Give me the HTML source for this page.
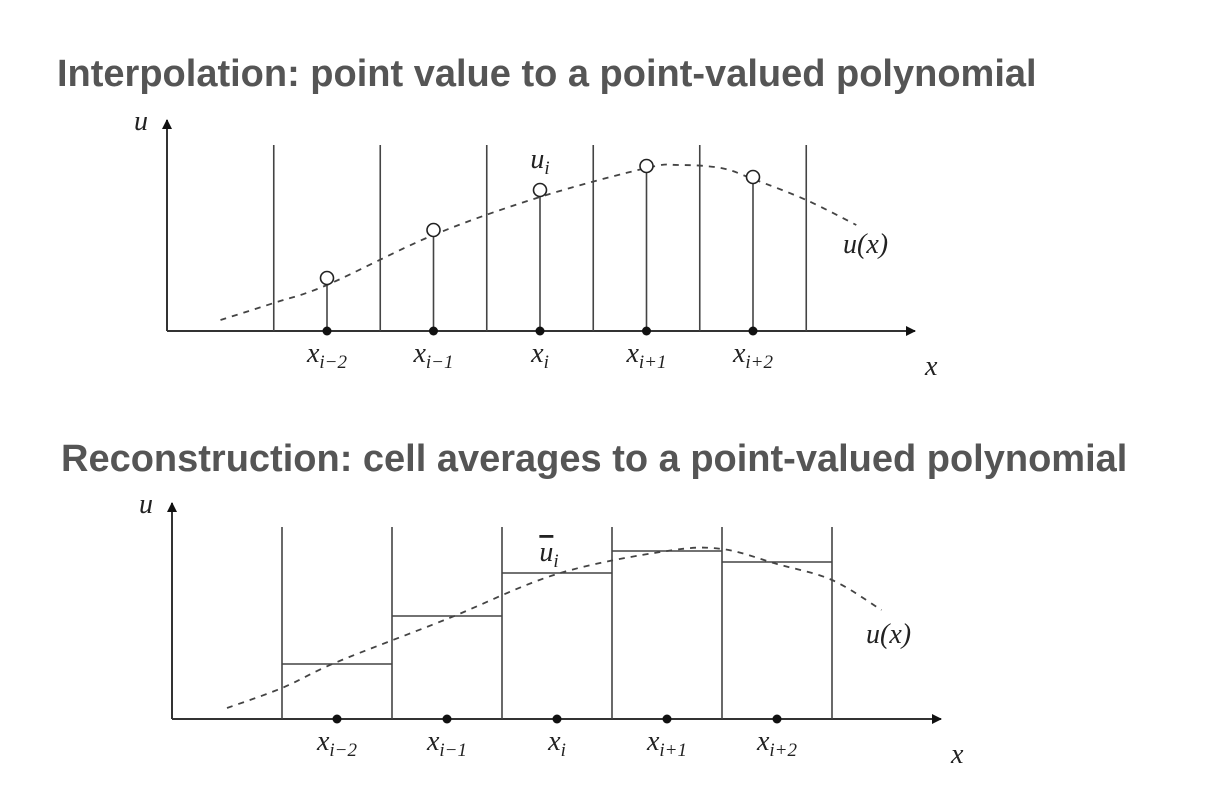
<!DOCTYPE html>
<html><head><meta charset="utf-8"><style>
html,body{margin:0;padding:0;background:#fff;}
svg{display:block;}
.t{font-family:"Liberation Sans",sans-serif;font-weight:bold;font-size:38px;fill:#555;}
.m{font-family:"Liberation Serif",serif;font-style:italic;font-size:28px;fill:#222;}
.s{font-size:19px;}
</style></head><body>
<svg id="fig" width="1210" height="808" viewBox="0 0 1210 808">
<defs><marker id="ar" markerWidth="10" markerHeight="10" refX="9" refY="5" orient="auto" markerUnits="userSpaceOnUse"><path d="M0,0 L10,5 L0,10 z" fill="#111"/></marker></defs>
<text class="t" x="57" y="86">Interpolation: point value to a point-valued polynomial</text>
<text class="t" x="61" y="471">Reconstruction: cell averages to a point-valued polynomial</text>
<g id="top"></g>
<g id="bot"></g>
</svg>
<script>
const labels = ["i\u22122","i\u22121","i","i+1","i+2"];
const topValues = [53, 101, 141, 165, 154];
const topCurveK = [-1, -0.5, 0, 1, 2, 3, 3.3, 3.7, 4, 4.5, 4.97];
const topCurveU = [11, 28, 46, 96, 134, 163, 166, 163, 152, 131, 106];
const botValues = [55, 103, 146, 168, 157];
const botCurveK = [-1, -0.5, 0, 1, 2, 3, 3.5, 4, 4.5, 4.95];
const botCurveU = [11, 31, 57, 100, 145, 168, 170, 155, 139, 109];
const NS = "http://www.w3.org/2000/svg";
function mk(parent, tag, attrs){const e=document.createElementNS(NS,tag);for(const k in attrs)e.setAttribute(k,attrs[k]);parent.appendChild(e);return e;}
function sub(parent,x,y,main,s,bar){
  const t=mk(parent,"text",{x:x,y:y,"class":"m","text-anchor":"middle"});
  
  
  const a=document.createElementNS(NS,"tspan");a.textContent=main;if(bar)a.setAttribute("text-decoration","overline");t.appendChild(a);
  const b=document.createElementNS(NS,"tspan");b.setAttribute("class","s");b.setAttribute("dy","6");b.textContent=s;t.appendChild(b);
  return t;
}
function draw(g, o){
  const X=k=>o.x0+o.dx*k, Y=u=>o.y0-u;
  let e=mk(g,"line",{x1:o.ox,y1:o.y0,x2:o.xEnd,y2:o.y0,stroke:"#333","stroke-width":2,"marker-end":"url(#ar)"});
  
  e=mk(g,"line",{x1:o.ox,y1:o.y0,x2:o.ox,y2:o.yTop,stroke:"#333","stroke-width":2,"marker-end":"url(#ar)"});
  
  for(let j=0;j<=5;j++){
    e=mk(g,"line",{x1:X(j-0.5),y1:o.y0,x2:X(j-0.5),y2:o.lineTop,stroke:"#444","stroke-width":1.6});
    
  }
  const P=o.ck.map((k,i)=>[X(k),Y(o.cu[i])]);
  let d="M"+P[0][0]+","+P[0][1];
  for(let i=0;i<P.length-1;i++){const p0=P[Math.max(0,i-1)],p1=P[i],p2=P[i+1],p3=P[Math.min(P.length-1,i+2)];
    d+=" C"+(p1[0]+(p2[0]-p0[0])/6)+","+(p1[1]+(p2[1]-p0[1])/6)+" "+(p2[0]-(p3[0]-p1[0])/6)+","+(p2[1]-(p3[1]-p1[1])/6)+" "+p2[0]+","+p2[1];}
  e=mk(g,"path",{d:d,fill:"none",stroke:"#444","stroke-width":1.8,"stroke-dasharray":"6,6"});
  
  o.vals.forEach((v,j)=>{
    if(o.mode==="pt"){
      e=mk(g,"line",{x1:X(j),y1:o.y0,x2:X(j),y2:Y(v)+6,stroke:"#444","stroke-width":1.6});
      
      e=mk(g,"circle",{cx:X(j),cy:Y(v),r:6.5,fill:"#fff",stroke:"#222","stroke-width":1.6});
      
    } else {
      e=mk(g,"line",{x1:X(j-0.5),y1:Y(v),x2:X(j+0.5),y2:Y(v),stroke:"#444","stroke-width":1.6});
      
    }
    e=mk(g,"circle",{cx:X(j),cy:o.y0,r:4.5,fill:"#111"});
    
    sub(g,X(j),o.y0+31,"x",labels[j]);
  });
  sub(g,X(2)+(o.mode==="pt"?0:-8),Y(o.vals[2])+(o.mode==="pt"?-22:-12),"u","i",o.mode!=="pt");
  let t=mk(g,"text",{x:o.ulx,y:o.uly,"class":"m"});t.textContent="u(x)";
  
  t=mk(g,"text",{x:o.ox-33,y:o.yTop+10,"class":"m"});t.textContent="u";
  
  t=mk(g,"text",{x:o.xEnd+10,y:o.y0+44,"class":"m"});t.textContent="x";
  
}
draw(document.getElementById("top"),{x0:327,dx:106.5,y0:331,ox:167,xEnd:915,yTop:120,lineTop:145,vals:topValues,ck:topCurveK,cu:topCurveU,mode:"pt",ulx:843,uly:253});
draw(document.getElementById("bot"),{x0:337,dx:110,y0:719,ox:172,xEnd:941,yTop:503,lineTop:527,vals:botValues,ck:botCurveK,cu:botCurveU,mode:"avg",ulx:866,uly:643});
</script>
</body></html>
